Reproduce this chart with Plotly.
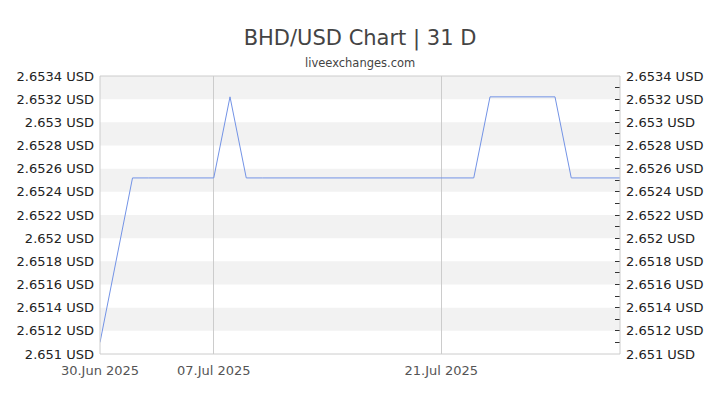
import plotly.graph_objects as go

dates = ["2025-06-30", "2025-07-02", "2025-07-03", "2025-07-04", "2025-07-05", "2025-07-06",
         "2025-07-07", "2025-07-08", "2025-07-09", "2025-07-10", "2025-07-11", "2025-07-12",
         "2025-07-13", "2025-07-14", "2025-07-15", "2025-07-16", "2025-07-17", "2025-07-18",
         "2025-07-19", "2025-07-20", "2025-07-21", "2025-07-22", "2025-07-23", "2025-07-24",
         "2025-07-25", "2025-07-26", "2025-07-27", "2025-07-28", "2025-07-29", "2025-07-30",
         "2025-07-31", "2025-08-01"]
rates = [2.6511, 2.65252, 2.65252, 2.65252, 2.65252, 2.65252,
         2.65252, 2.65322, 2.65252, 2.65252, 2.65252, 2.65252,
         2.65252, 2.65252, 2.65252, 2.65252, 2.65252, 2.65252,
         2.65252, 2.65252, 2.65252, 2.65252, 2.65252, 2.65322,
         2.65322, 2.65322, 2.65322, 2.65322, 2.65252, 2.65252,
         2.65252, 2.65252]

y_ticks = [2.651, 2.6512, 2.6514, 2.6516, 2.6518, 2.652, 2.6522, 2.6524,
           2.6526, 2.6528, 2.653, 2.6532, 2.6534]
y_labels = ["2.651 USD", "2.6512 USD", "2.6514 USD", "2.6516 USD", "2.6518 USD",
            "2.652 USD", "2.6522 USD", "2.6524 USD", "2.6526 USD", "2.6528 USD",
            "2.653 USD", "2.6532 USD", "2.6534 USD"]
x_ticks = ["2025-06-30", "2025-07-07", "2025-07-21"]
x_range = ["2025-06-30", "2025-08-01"]

FONT = "DejaVu Sans"
fig = go.Figure()
fig.add_trace(go.Scatter(x=dates, y=rates, mode="lines",
                         line=dict(color="#7393e6", width=1), hoverinfo="skip",
                         showlegend=False))
# invisible trace for right axis
fig.add_trace(go.Scatter(x=[dates[0]], y=[rates[0]], yaxis="y2", mode="markers",
                         marker=dict(opacity=0), showlegend=False, hoverinfo="skip"))

shapes = []
for i in range(1, len(y_ticks) - 1, 2):
    shapes.append(dict(type="rect", xref="paper", yref="y", x0=0, x1=1,
                       y0=y_ticks[i], y1=y_ticks[i + 1], fillcolor="#f2f2f2",
                       line=dict(width=0), layer="below"))
shapes.append(dict(type="rect", xref="paper", yref="paper", x0=0, x1=1, y0=0, y1=1,
                   line=dict(color="#cccccc", width=1), fillcolor="rgba(0,0,0,0)"))

yr = [y_ticks[0], y_ticks[-1]]
fig.update_layout(
    width=712, height=397,
    margin=dict(l=92, r=100, t=68, b=51),
    paper_bgcolor="white", plot_bgcolor="white",
    font=dict(family=FONT, size=13, color="#333333"),
    title=dict(text="BHD/USD Chart | 31 D", xref="paper", x=0.5, xanchor="center",
               y=0.925, yanchor="middle",
               font=dict(family=FONT, size=21, color="#444444")),
    annotations=[dict(text="liveexchanges.com", xref="paper", yref="paper", x=0.5, y=1.0,
                      yshift=13, showarrow=False, yanchor="middle",
                      font=dict(family=FONT, size=11.5, color="#444444"))],
    shapes=shapes,
    xaxis=dict(type="date", range=x_range, tickvals=x_ticks, tickformat="%d.%b %Y",
               showgrid=True, gridcolor="#cccccc", gridwidth=1, zeroline=False,
               showline=False, ticks="", ticklabelstandoff=7, automargin=False,
               tickfont=dict(color="#555555", size=13), fixedrange=True),
    yaxis=dict(range=yr, tickvals=y_ticks, ticktext=y_labels, showgrid=False,
               zeroline=False, showline=False, ticks="", fixedrange=True, automargin=False,
               ticklabelstandoff=5, tickfont=dict(color="#222222", size=13)),
    yaxis2=dict(range=yr, overlaying="y", side="right", tickvals=y_ticks, ticktext=y_labels,
                showgrid=False, zeroline=False, showline=False, ticks="inside", ticklen=5,
                tickcolor="#333333", ticklabelstandoff=5, automargin=False,
                minor=dict(ticks="inside", ticklen=5, tickcolor="#333333", dtick=0.0001,
                           showgrid=False),
                tickfont=dict(color="#222222", size=13), fixedrange=True),
)
fig.write_html("out.html", config={"displayModeBar": False})
